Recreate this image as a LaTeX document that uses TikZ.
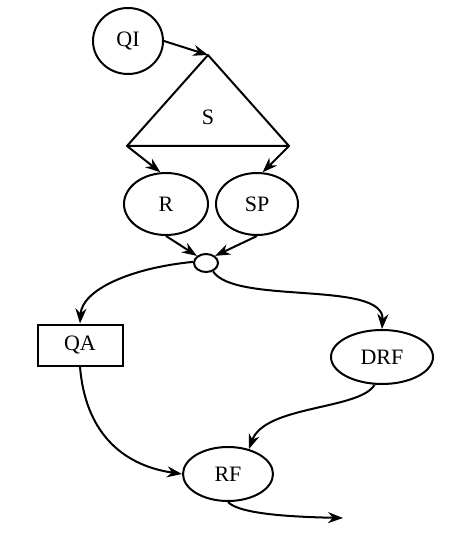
\documentclass[tikz,border=0pt]{standalone}
\usepackage{fontspec}
\setmainfont{Liberation Serif}
\usetikzlibrary{shapes.geometric,arrows.meta}

\begin{document}
\begin{tikzpicture}[x=1pt,y=-1pt,
          line width=2pt,
          font=\fontsize{22}{26}\selectfont,
          ell/.style={draw,ellipse,inner sep=0pt},
          flow/.style={-{Stealth[length=15pt,width=11pt]}}]
          \useasboundingbox (0,0) rectangle (474,545);
          % nodes
          \node[ell,minimum width=70pt,minimum height=66pt] (qi) at (128,41) {QI};
          \coordinate (top) at (208,55);
          \coordinate (bl) at (127,146);
          \coordinate (br) at (289,146);
          \draw[line join=round] (top) -- (bl) -- (br) -- cycle;
          \node (s) at (208,117) {S};
          \node[ell,minimum width=84pt,minimum height=62pt] (r) at (166,204) {R};
          \node[ell,minimum width=82pt,minimum height=62pt] (sp) at (257,204) {SP};
          \node[ell,minimum width=24pt,minimum height=18pt] (dot) at (206,263) {};
          \node[draw,rectangle,minimum width=85pt,minimum height=41pt] (qa) at (80,345) {QA};
          \node[ell,minimum width=102pt,minimum height=54pt] (drf) at (382,357) {DRF};
          \node[ell,minimum width=90pt,minimum height=54pt] (rf) at (228,474) {RF};
          \coordinate (out) at (343,518);
          % connectors
          \draw[flow] (qi.east) -- (top);
          \draw[flow] (bl) -- (r.100);
          \draw[flow] (br) -- (sp.80);
          \draw[flow] (r.south) -- (dot.142);
          \draw[flow] (sp.south) -- (dot.38);
          \draw[flow] (dot.175) .. controls (130,268) and (82,290) .. (qa.north);
          \draw[flow] (dot.-50) .. controls (235,305) and (385,280) .. (drf.north);
          \draw[flow] (drf.-105) .. controls (360,410) and (265,405) .. (rf.50);
          \draw[flow] (qa.south) .. controls (85,430) and (120,465) .. (rf.west);
          \draw[flow] (rf.south) .. controls (240,515) and (300,517) .. (out);
        \end{tikzpicture}
\end{document}
